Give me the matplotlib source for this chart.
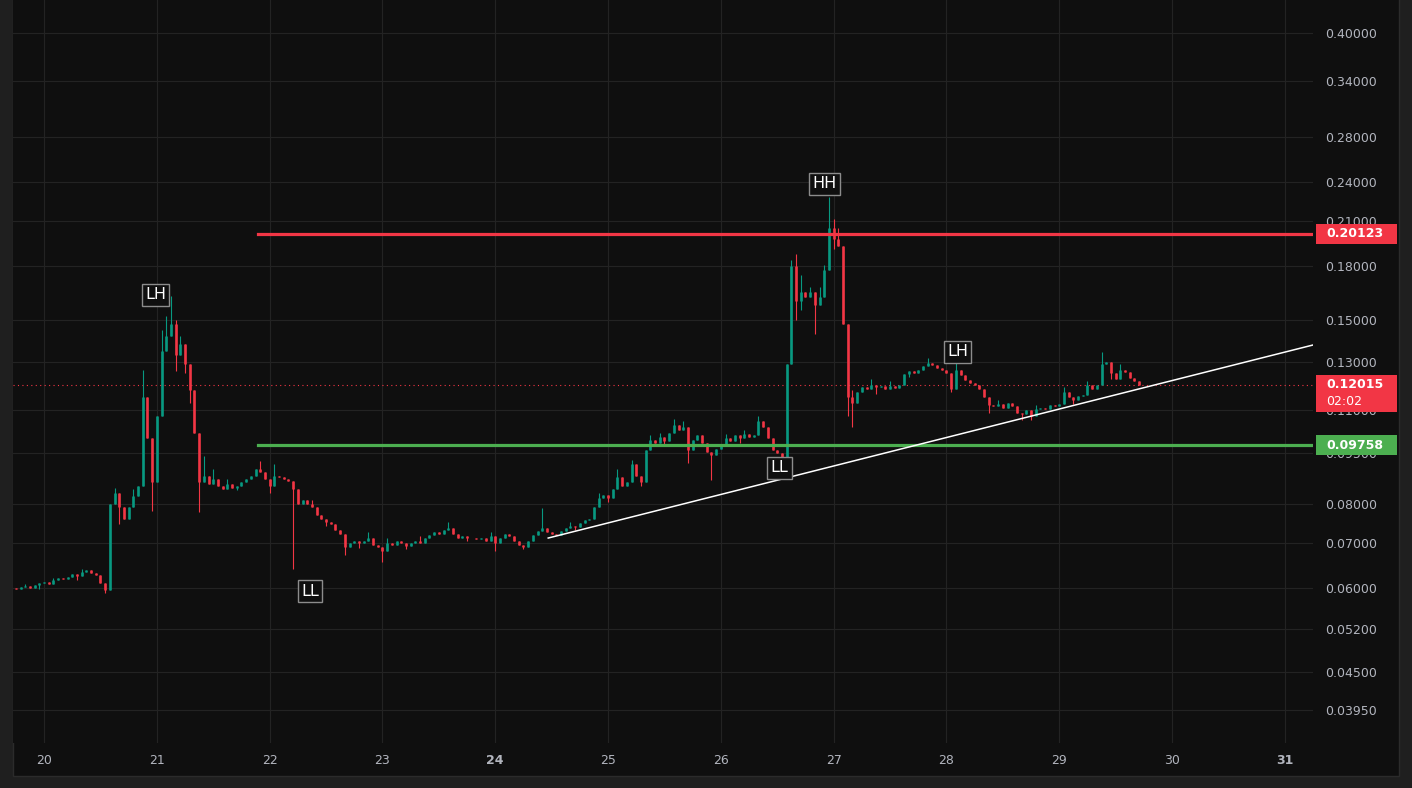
import matplotlib.pyplot as plt
import numpy as np
from matplotlib.patches import Rectangle

# hourly candles, first one opens on the 19th at 18:00
start_day = 19.75
first_open = 0.0600
closes = [
    0.0598, 0.0601, 0.0603, 0.0600, 0.0605, 0.0609,
    # 20
    0.0612, 0.0608, 0.0615, 0.0620, 0.0617, 0.0623, 0.0628, 0.0625, 0.0632, 0.0638, 0.0630, 0.0626,
    0.0610, 0.0595, 0.0800, 0.0830, 0.0790, 0.0760, 0.0790, 0.0820, 0.0850, 0.1150, 0.1000, 0.0860,
    # 21
    0.1080, 0.1350, 0.1420, 0.1480, 0.1330, 0.1380, 0.1290, 0.1180, 0.1020, 0.0860, 0.0880, 0.0855,
    0.0870, 0.0850, 0.0840, 0.0855, 0.0845, 0.0850, 0.0862, 0.0870, 0.0880, 0.0900, 0.0890, 0.0870,
    # 22
    0.0850, 0.0880, 0.0875, 0.0870, 0.0865, 0.0840, 0.0800, 0.0810, 0.0800, 0.0790, 0.0770, 0.0760,
    0.0750, 0.0745, 0.0730, 0.0720, 0.0690, 0.0700, 0.0705, 0.0698, 0.0705, 0.0710, 0.0695, 0.0690,
    # 23
    0.0680, 0.0700, 0.0695, 0.0705, 0.0700, 0.0692, 0.0700, 0.0705, 0.0700, 0.0710, 0.0718, 0.0725,
    0.0722, 0.0730, 0.0735, 0.0720, 0.0712, 0.0715, 0.0710, 0.0712, 0.0708, 0.0712, 0.0705, 0.0715,
    # 24
    0.0700, 0.0710, 0.0720, 0.0715, 0.0705, 0.0695, 0.0690, 0.0705, 0.0718, 0.0728, 0.0735, 0.0725,
    0.0722, 0.0718, 0.0728, 0.0735, 0.0742, 0.0738, 0.0748, 0.0755, 0.0760, 0.0790, 0.0815, 0.0825,
    # 25
    0.0815, 0.0840, 0.0875, 0.0850, 0.0860, 0.0915, 0.0880, 0.0860, 0.0960, 0.0995, 0.0985, 0.1005,
    0.0990, 0.1020, 0.1045, 0.1030, 0.1040, 0.0960, 0.0995, 0.1010, 0.0985, 0.0955, 0.0945, 0.0965,
    # 26
    0.0975, 0.1000, 0.0990, 0.1010, 0.1000, 0.1015, 0.1005, 0.1010, 0.1060, 0.1040, 0.1000, 0.0960,
    0.0950, 0.0930, 0.1290, 0.1800, 0.1600, 0.1650, 0.1620, 0.1650, 0.1580, 0.1620, 0.1780, 0.2050,
    # 27
    0.1980, 0.1930, 0.1480, 0.1150, 0.1130, 0.1170, 0.1190, 0.1185, 0.1200, 0.1190, 0.1195, 0.1185,
    0.1195, 0.1188, 0.1200, 0.1245, 0.1260, 0.1250, 0.1265, 0.1280, 0.1295, 0.1285, 0.1270, 0.1265,
    # 28
    0.1250, 0.1185, 0.1265, 0.1240, 0.1220, 0.1210, 0.1200, 0.1185, 0.1150, 0.1120, 0.1115, 0.1125,
    0.1110, 0.1130, 0.1115, 0.1090, 0.1085, 0.1100, 0.1080, 0.1105, 0.1110, 0.1105, 0.1120, 0.1115,
    # 29
    0.1125, 0.1170, 0.1150, 0.1140, 0.1155, 0.1160, 0.1200, 0.1185, 0.1200, 0.1290, 0.1300, 0.1250,
    0.1225, 0.1265, 0.1255, 0.1230, 0.1215, 0.12015,
]
# wicks that stick out of the body (candle index -> price)
wick_high = {2: 0.0608, 8: 0.0620, 14: 0.0640, 21: 0.0845, 25: 0.0840, 27: 0.1264, 31: 0.1450,
             32: 0.1520, 33: 0.1625, 34: 0.1500, 35: 0.1420, 40: 0.0940, 42: 0.0900, 45: 0.0870,
             52: 0.0925, 55: 0.0915, 60: 0.0835, 63: 0.0810, 75: 0.0725, 79: 0.0712, 86: 0.0715,
             92: 0.0752, 101: 0.0725, 112: 0.0788, 118: 0.0752, 124: 0.0830, 128: 0.0900,
             131: 0.0930, 135: 0.1010, 137: 0.1020, 140: 0.1070, 142: 0.1060, 151: 0.1015,
             155: 0.1030, 158: 0.1080, 165: 0.1840, 166: 0.1880, 167: 0.1750, 169: 0.1680,
             171: 0.1680, 172: 0.1810, 173: 0.2280, 174: 0.2120, 175: 0.2050, 178: 0.1180,
             182: 0.1225, 186: 0.1215, 194: 0.1315, 200: 0.1335, 209: 0.1140, 217: 0.1120,
             223: 0.1190, 228: 0.1215, 231: 0.1345, 235: 0.1290}
wick_low = {5: 0.0598, 13: 0.0615, 19: 0.0590, 22: 0.0745, 29: 0.0780, 34: 0.1260, 36: 0.1250,
            37: 0.1130, 39: 0.0776, 47: 0.0838, 54: 0.0830, 59: 0.0640, 66: 0.0742, 70: 0.0670,
            73: 0.0688, 78: 0.0655, 83: 0.0685, 96: 0.0703, 102: 0.0680, 108: 0.0685,
            119: 0.0730, 126: 0.0805, 133: 0.0850, 138: 0.0975, 143: 0.0920, 148: 0.0867,
            154: 0.0985, 163: 0.0920, 166: 0.1500, 167: 0.1550, 170: 0.1430, 174: 0.1910,
            177: 0.1080, 178: 0.1040, 183: 0.1165, 190: 0.1235, 199: 0.1170, 207: 0.1090,
            214: 0.1065, 216: 0.1065, 225: 0.1125, 233: 0.1225}

resistance = 0.20123
support = 0.09758
levels_from = 21.9
last_price = 0.12015
countdown = '02:02'

trend_days = [24.47, 31.25]
trend_prices = [0.0711, 0.1376]

swing_labels = ['LH', 'LL', 'HH', 'LL', 'LH']
swing_days = [20.99, 22.36, 26.92, 26.52, 28.10]
swing_prices = [0.1633, 0.0593, 0.2387, 0.0904, 0.1344]

price_ticks = [0.40, 0.34, 0.28, 0.24, 0.21, 0.18, 0.15, 0.13, 0.11, 0.095,
               0.08, 0.07, 0.06, 0.052, 0.045, 0.0395]
day_ticks = list(range(20, 32))
bold_days = [24, 31]

UP = '#089981'
DOWN = '#f23645'
GREEN = '#4caf50'
BG = '#0f0f0f'
GRID = '#232323'
TXT = '#b2b5be'

W, H = 1412, 788
fig = plt.figure(figsize=(W / 100, H / 100), dpi=100, facecolor='#1f1f1f')
fig.add_artist(Rectangle((13 / W, 12 / H), 1386 / W, 800 / H, transform=fig.transFigure,
                         fc=BG, ec='#2b2b2b', lw=1, zorder=-10))
ax = fig.add_axes([13 / W, 45 / H, 1300 / W, 743 / H])
ax.set_facecolor(BG)

# candles
c = np.array(closes)
o = np.r_[first_open, c[:-1]]
t = start_day + np.arange(len(c)) / 24
hi = np.maximum(o, c)
lo = np.minimum(o, c)
for k, v in wick_high.items():
    hi[k] = max(hi[k], v)
for k, v in wick_low.items():
    lo[k] = min(lo[k], v)
col = np.where(c >= o, UP, DOWN)
ax.vlines(t, lo, hi, colors=col, lw=0.8, zorder=3)
ax.vlines(t, np.minimum(o, c), np.maximum(o, c), colors=col, lw=1.9, zorder=3)

ax.set_yscale('log')
ax.set_xlim(19.725, 31.25)
ax.set_ylim(0.03527, 0.4478)

# levels, trendline, last price
ax.plot([levels_from, 31.25], [resistance, resistance], color=DOWN, lw=2.3, zorder=4)
ax.plot([levels_from, 31.25], [support, support], color=GREEN, lw=2.3, zorder=4)
ax.plot(trend_days, trend_prices, color='white', lw=1.1, zorder=4)
ax.axhline(last_price, color=DOWN, lw=0.8, ls=(0, (1, 3)), zorder=2)

for lab, d, p in zip(swing_labels, swing_days, swing_prices):
    ax.text(d, p, lab, ha='center', va='center', color='white', fontsize=11.5, zorder=6,
            bbox=dict(boxstyle='square,pad=0.2', fc=BG, ec='#8c8c8c', lw=1))

# axes styling
ax.yaxis.tick_right()
ax.minorticks_off()
ax.set_yticks(price_ticks)
ax.set_yticklabels([f'{v:.5f}' for v in price_ticks])
ax.set_xticks(day_ticks)
ax.set_xticklabels([str(d) for d in day_ticks])
for lab, d in zip(ax.get_xticklabels(), day_ticks):
    if d in bold_days:
        lab.set_fontweight('bold')
ax.tick_params(axis='both', length=0, colors=TXT, labelsize=9)
ax.tick_params(axis='y', pad=8.5)
ax.tick_params(axis='x', pad=8)
ax.grid(True, color=GRID, lw=0.8)
ax.set_axisbelow(True)
for s in ax.spines.values():
    s.set_visible(False)


def price_tag(price, color, text, extra=0):
    y = ax.transData.transform((25, price))[1]
    fig.add_artist(Rectangle((1316 / W, (y - 10 - extra) / H), 81 / W, (20 + extra) / H,
                             transform=fig.transFigure, fc=color, ec='none', zorder=5))
    fig.text(1326 / W, y / H, text, color='white', fontsize=9, fontweight='bold',
             va='center', ha='left', zorder=6)
    return y


price_tag(resistance, DOWN, f'{resistance:.5f}')
y_last = price_tag(last_price, DOWN, f'{last_price:.5f}', extra=17)
fig.text(1326 / W, (y_last - 17) / H, countdown, color='white', fontsize=9,
         va='center', ha='left', zorder=6)
price_tag(support, GREEN, f'{support:.5f}')

fig.savefig('out.png', dpi=100, facecolor=fig.get_facecolor())
